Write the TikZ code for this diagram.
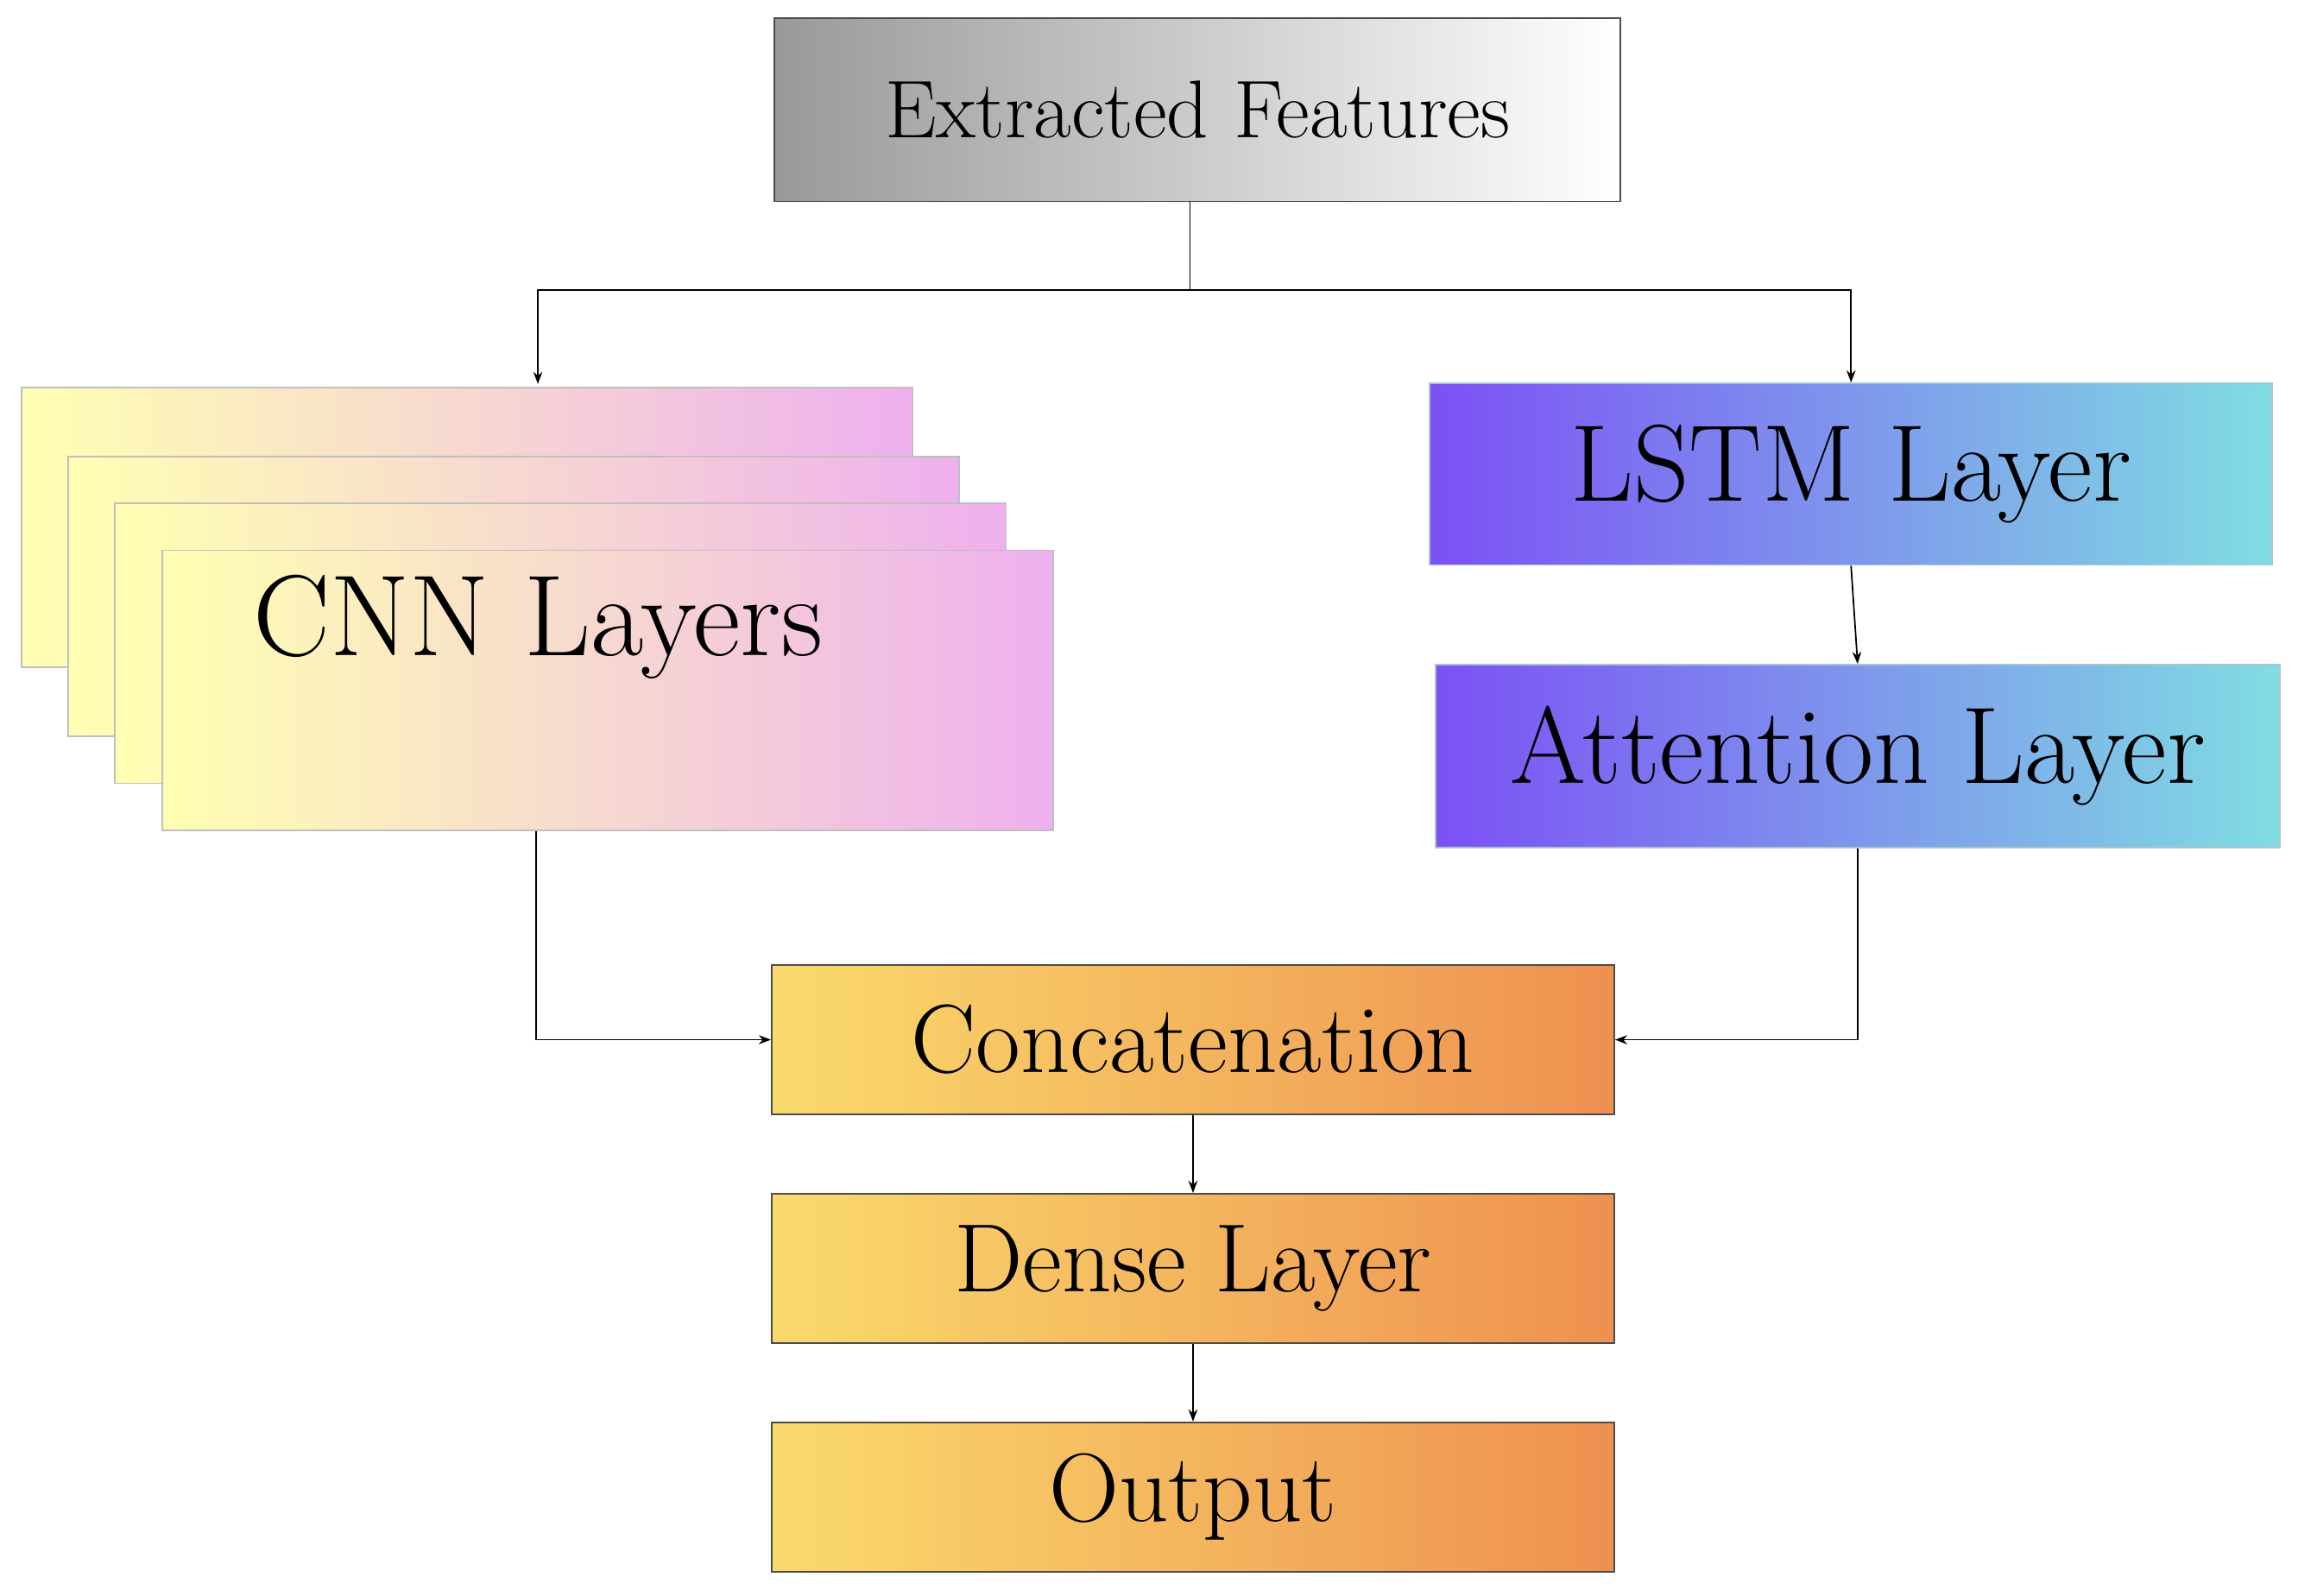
\documentclass[tikz,border=0pt]{standalone}
\usetikzlibrary{arrows.meta}
\begin{document}
\begin{tikzpicture}[x=0.01698cm,y=-0.01698cm,
  box/.style={draw=black!70,line width=0.5pt,inner sep=0pt,anchor=north west},
  gray box/.style={box,left color=black!40,right color=white},
  cnn box/.style={box,draw=black!25,left color=yellow!30!white,right color={rgb,255:red,238;green,176;blue,238}},
  rnn box/.style={box,draw=cyan!50!black!40,left color={rgb,255:red,124;green,80;blue,245},right color={rgb,255:red,128;green,221;blue,227}},
  out box/.style={box,left color={rgb,255:red,250;green,218;blue,108},right color={rgb,255:red,238;green,144;blue,80}},
  link/.style={line width=0.5pt,-{Stealth[length=4pt,width=3pt]}}]
\useasboundingbox (0,0) rectangle (1568,1089);
\node[gray box,minimum width=577*0.01698cm,minimum height=125*0.01698cm] (ef) at (528,12) {};
\node[font=\fontsize{27}{30}\selectfont] at (ef.center) {Extracted Features};

\node[cnn box,minimum width=608*0.01698cm,minimum height=191*0.01698cm] (cnn1) at (14,264) {};
\node[cnn box,minimum width=608*0.01698cm,minimum height=191*0.01698cm] (cnn2) at (46,311) {};
\node[cnn box,minimum width=608*0.01698cm,minimum height=191*0.01698cm] (cnn3) at (78,343) {};
\node[cnn box,minimum width=608*0.01698cm,minimum height=191*0.01698cm] (cnn4) at (110,375) {};
\node[font=\fontsize{38}{42}\selectfont] (cnnt) at (367,428) {CNN Layers};

\node[rnn box,minimum width=575*0.01698cm,minimum height=124*0.01698cm] (lstm) at (975,261) {};
\node[font=\fontsize{36}{40}\selectfont] at (lstm.center) {LSTM Layer};
\node[rnn box,minimum width=576*0.01698cm,minimum height=125*0.01698cm] (att) at (979,453) {};
\node[font=\fontsize{36}{40}\selectfont] at (att.center) {Attention Layer};

\node[out box,minimum width=575*0.01698cm,minimum height=102*0.01698cm] (cat) at (526,658) {};
\node[font=\fontsize{32}{36}\selectfont] at (cat.center) {Concatenation};
\node[out box,minimum width=575*0.01698cm,minimum height=102*0.01698cm] (dense) at (526,814) {};
\node[font=\fontsize{32}{36}\selectfont] at (dense.center) {Dense Layer};
\node[out box,minimum width=575*0.01698cm,minimum height=102*0.01698cm] (out) at (526,970) {};
\node[font=\fontsize{32}{36}\selectfont] at (out.center) {Output};

\coordinate (split) at (812,198);
\coordinate (cin) at (367,262);
\coordinate (cout) at (366,567);
\draw[line width=0.5pt] (812,137) -- (split);
\draw[link] (split) -| (cin);
\draw[link] (split) -| (lstm.north);
\draw[link] (lstm.south) -- (att.north);
\draw[link] (cout) |- (cat.west);
\draw[link] (att.south) |- (cat.east);
\draw[link] (cat.south) -- (dense.north);
\draw[link] (dense.south) -- (out.north);
\end{tikzpicture}
\end{document}
